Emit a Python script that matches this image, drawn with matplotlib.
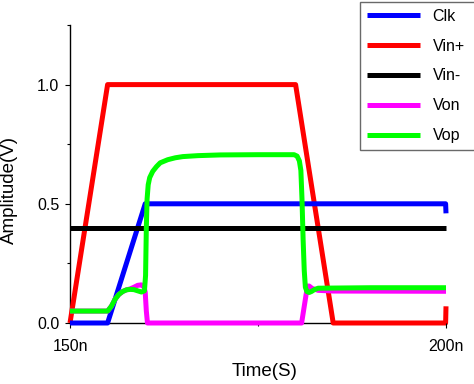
import numpy as np
import matplotlib
matplotlib.use("Agg")
import matplotlib.pyplot as plt
from matplotlib.ticker import MultipleLocator, FixedLocator

plt.rcParams['font.family'] = ['Liberation Sans', 'DejaVu Sans']

# time in ns, values in V
t_clk = [150, 155, 160, 199.95, 200]
v_clk = [0, 0, 0.5, 0.5, 0.46]

t_vinp = [150, 155, 180, 185, 199.95, 200]
v_vinp = [0, 1.0, 1.0, 0, 0, 0.07]

t_vinn = [150, 200]
v_vinn = [0.4, 0.4]

t_von = [150, 155, 155.5, 156, 156.5, 157, 157.5, 158, 158.5, 159, 159.5, 159.8,
         160.0, 160.15, 160.3, 180.8, 181.0, 181.2, 181.4, 181.6, 181.8, 182.2,
         183, 185, 200]
v_von = [0.05, 0.05, 0.07, 0.10, 0.12, 0.132, 0.139, 0.143, 0.15, 0.158, 0.16, 0.155,
         0.13, 0.05, 0.0, 0.0, 0.04, 0.08, 0.12, 0.155, 0.155, 0.145,
         0.137, 0.134, 0.133]

t_vop = [150, 155, 155.5, 156, 156.5, 157, 157.5, 158, 158.5, 159, 159.5, 159.9,
         160.05, 160.15, 160.25, 160.4, 160.6, 161, 161.5, 162, 163, 164, 165,
         167, 170, 175, 179.8, 180.2, 180.5, 180.7, 180.85, 181.0, 181.15,
         181.3, 181.5, 181.8, 182.1, 182.5, 183, 190, 200]
v_vop = [0.05, 0.05, 0.07, 0.10, 0.12, 0.132, 0.139, 0.141, 0.14, 0.135, 0.13, 0.135,
         0.2, 0.4, 0.52, 0.58, 0.61, 0.636, 0.656, 0.672, 0.685, 0.693, 0.698,
         0.702, 0.705, 0.706, 0.706, 0.70, 0.68, 0.64, 0.52, 0.35, 0.22,
         0.15, 0.132, 0.128, 0.132, 0.14, 0.146, 0.148, 0.148]

series = [
    ("Clk", t_clk, v_clk, "#0000ff", 2),
    ("Vin+", t_vinp, v_vinp, "#ff0000", 1),
    ("Vin-", t_vinn, v_vinn, "#000000", 3),
    ("Von", t_von, v_von, "#ff00ff", 4),
    ("Vop", t_vop, v_vop, "#00ff00", 5),
]

fig = plt.figure(figsize=(4.74, 3.84), dpi=100)
ax = fig.add_axes([70/474, 1-323/384, 376/474, 298/384])

for name, t, v, c, z in series:
    ax.plot(t, v, color=c, lw=3.6, label=name, zorder=z,
            solid_capstyle='butt', solid_joinstyle='round', clip_on=False)

ax.set_xlim(150, 200)
ax.set_ylim(0, 1.25)

ax.spines['top'].set_visible(False)
ax.spines['right'].set_visible(False)
for s in ['left', 'bottom']:
    ax.spines[s].set_linewidth(1.0)
    ax.spines[s].set_zorder(0.5)

ax.set_xticks([150, 200])
ax.set_xticklabels(["150n", "200n"])
ax.xaxis.set_minor_locator(FixedLocator([175]))
ax.set_yticks([0, 0.5, 1.0])
ax.set_yticklabels(["0.0", "0.5", "1.0"])
ax.yaxis.set_minor_locator(FixedLocator([0.25, 0.75, 1.25]))

ax.tick_params(which='major', direction='out', length=3.6, width=0.8,
               labelsize=11.5)
ax.tick_params(axis='x', which='major', pad=8)
ax.tick_params(axis='y', which='major', pad=4)
ax.tick_params(which='minor', direction='out', length=2.4, width=0.8)

ax.set_xlabel("Time(S)", fontsize=13.5)
ax.set_ylabel("Amplitude(V)", fontsize=13.5)
ax.xaxis.set_label_coords(0.517, -0.134)
ax.yaxis.set_label_coords(-0.138, 0.446)

leg = fig.legend(loc='upper left', bbox_to_anchor=(360/474, 0, 0.3, 1 - 1.5/384),
                 mode='expand', fontsize=11.5, handlelength=3.3,
                 handletextpad=0.8, labelspacing=0.93, borderpad=0.45,
                 borderaxespad=0, fancybox=False, frameon=True)
leg.get_frame().set_edgecolor('#444444')
leg.get_frame().set_linewidth(1.0)

fig.savefig("out.png", dpi=100)
